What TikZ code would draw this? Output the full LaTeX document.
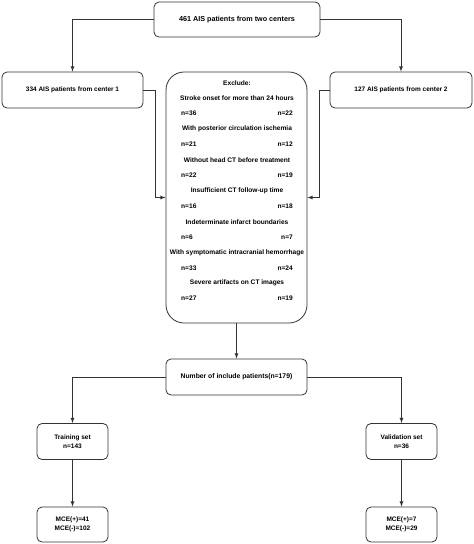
\documentclass[tikz,border=0pt]{standalone}
\usepackage{fontspec}
\setmainfont{Liberation Sans}
\usetikzlibrary{positioning, arrows}

\begin{document}
\begin{tikzpicture}[
  x = 1pt,
  y = -1pt,
  box/.style = {
    draw = black!80,
    line width = .8pt,
    rounded corners = 5pt,
    fill = white,
    align = center,
    inner sep = 0pt,
    font = \fontsize{6.5pt}{8.5pt}\selectfont\bfseries
  },
  label/.style = {
    inner sep = 0pt,
    font = \fontsize{6.6pt}{7pt}\selectfont\bfseries
  },
  connection/.style = {
    -latex,
    black!80,
    line width = .8pt
  },
  ]
  \useasboundingbox (0, 0) rectangle (474, 544);

  % All patients.
  \node[box, minimum width=166, minimum height=35,
  font=\fontsize{7.2pt}{8pt}\selectfont\bfseries] (all) at (237, 19.5)
  {461 AIS patients from two centers};
  % Patients from each center.
  \node[box, minimum width=141, minimum height=36] (C1) at (72.5, 90)
  {334 AIS patients from center 1};
  \node[box, minimum width=142, minimum height=36] (C2) at (401, 90)
  {127 AIS patients from center 2};

  % Exclusion box.
  \node[box, rounded corners=18pt, minimum width=141, minimum height=251]
  (exclude) at (236.5, 197.5) {};
  \node[label] (exclude-title) at (237, 83) {Exclude:};
  \foreach \y/\reason/\left/\right [count=\i] in {
    98/Stroke onset for more than 24 hours/36/22,
    129/With posterior circulation ischemia/21/12,
    160/Without head CT before treatment/22/19,
    191/Insufficient CT follow-up time/16/18,
    222/Indeterminate infarct boundaries/6/7,
    253/With symptomatic intracranial hemorrhage/33/24,
    283/Severe artifacts on CT images/27/19} {
    \node[label] (R-\i) at (237, \y) {\reason};
    \node[label, anchor=west] (L-\i) at (181, \y+15.5) {n=\left};
    \node[label, anchor=east] (N-\i) at (293, \y+15.5) {n=\right};
  }

  % Included patients.
  \node[box, minimum width=141, minimum height=36,
  font=\fontsize{6.8pt}{8pt}\selectfont\bfseries] (include) at (236.5, 377)
  {Number of include patients(n=179)};
  % Training and validation sets.
  \node[box, minimum width=71, minimum height=36] (train) at (72.5, 441.5)
  {Training set\\n=143};
  \node[box, minimum width=71, minimum height=36] (valid) at (401.5, 441.5)
  {Validation set\\n=36};
  \node[box, minimum width=71, minimum height=35] (train-mce) at (72.5, 524.5)
  {MCE(+)=41\\MCE(-)=102};
  \node[box, minimum width=71, minimum height=35] (valid-mce) at (401.5, 524.5)
  {MCE(+)=7\\MCE(-)=29};

  % Connections.
  \draw[connection] (all.west) -| (C1.north);
  \draw[connection] (all.east) -| (C2.north);
  \draw[connection] (C1.east) -- ++(12, 0) |- (exclude.west);
  \draw[connection] (C2.west) -- ++(-10, 0) |- (exclude.east);
  \draw[connection] (exclude.south) -- (include.north);
  \draw[connection] (include.west) -| (train.north);
  \draw[connection] (include.east) -| (valid.north);
  \draw[connection] (train.south) -- (train-mce.north);
  \draw[connection] (valid.south) -- (valid-mce.north);
\end{tikzpicture}
\end{document}
